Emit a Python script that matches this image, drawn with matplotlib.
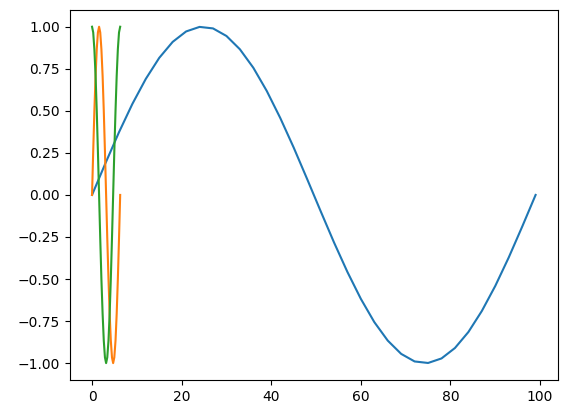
import matplotlib
matplotlib.use('Agg')
import matplotlib.pyplot as plt

# blue series: sample index vs value
blue_x = [0, 3, 6, 9, 12, 15, 18, 21, 24, 27, 30, 33, 36, 39, 42, 45, 48, 51,
          54, 57, 60, 63, 66, 69, 72, 75, 78, 81, 84, 87, 90, 93, 96, 99]
blue_y = [0.0, 0.189, 0.372, 0.541, 0.690, 0.815, 0.910, 0.972, 0.999, 0.990,
          0.945, 0.866, 0.756, 0.618, 0.458, 0.282, 0.095, -0.095, -0.282, -0.458,
          -0.618, -0.756, -0.866, -0.945, -0.990, -0.999, -0.972, -0.910, -0.815,
          -0.690, -0.541, -0.372, -0.189, 0.0]

# orange and green series share the same x
short_x = [0, 0.26, 0.52, 0.79, 1.05, 1.31, 1.57, 1.83, 2.09, 2.36, 2.62, 2.88, 3.14,
           3.40, 3.67, 3.93, 4.19, 4.45, 4.71, 4.97, 5.24, 5.50, 5.76, 6.02, 6.28]
orange_y = [0, .259, .5, .707, .866, .966, 1, .966, .866, .707, .5, .259, 0,
            -.259, -.5, -.707, -.866, -.966, -1, -.966, -.866, -.707, -.5, -.259, 0]
green_y = [1, .966, .866, .707, .5, .259, 0, -.259, -.5, -.707, -.866, -.966, -1,
           -.966, -.866, -.707, -.5, -.259, 0, .259, .5, .707, .866, .966, 1]

fig, ax = plt.subplots(figsize=(5.68, 4.13), dpi=100)
ax.plot(blue_x, blue_y)
ax.plot(short_x, orange_y)
ax.plot(short_x, green_y)
fig.subplots_adjust(left=0.123, right=0.982, top=0.976, bottom=0.08)
fig.savefig('out.png')
